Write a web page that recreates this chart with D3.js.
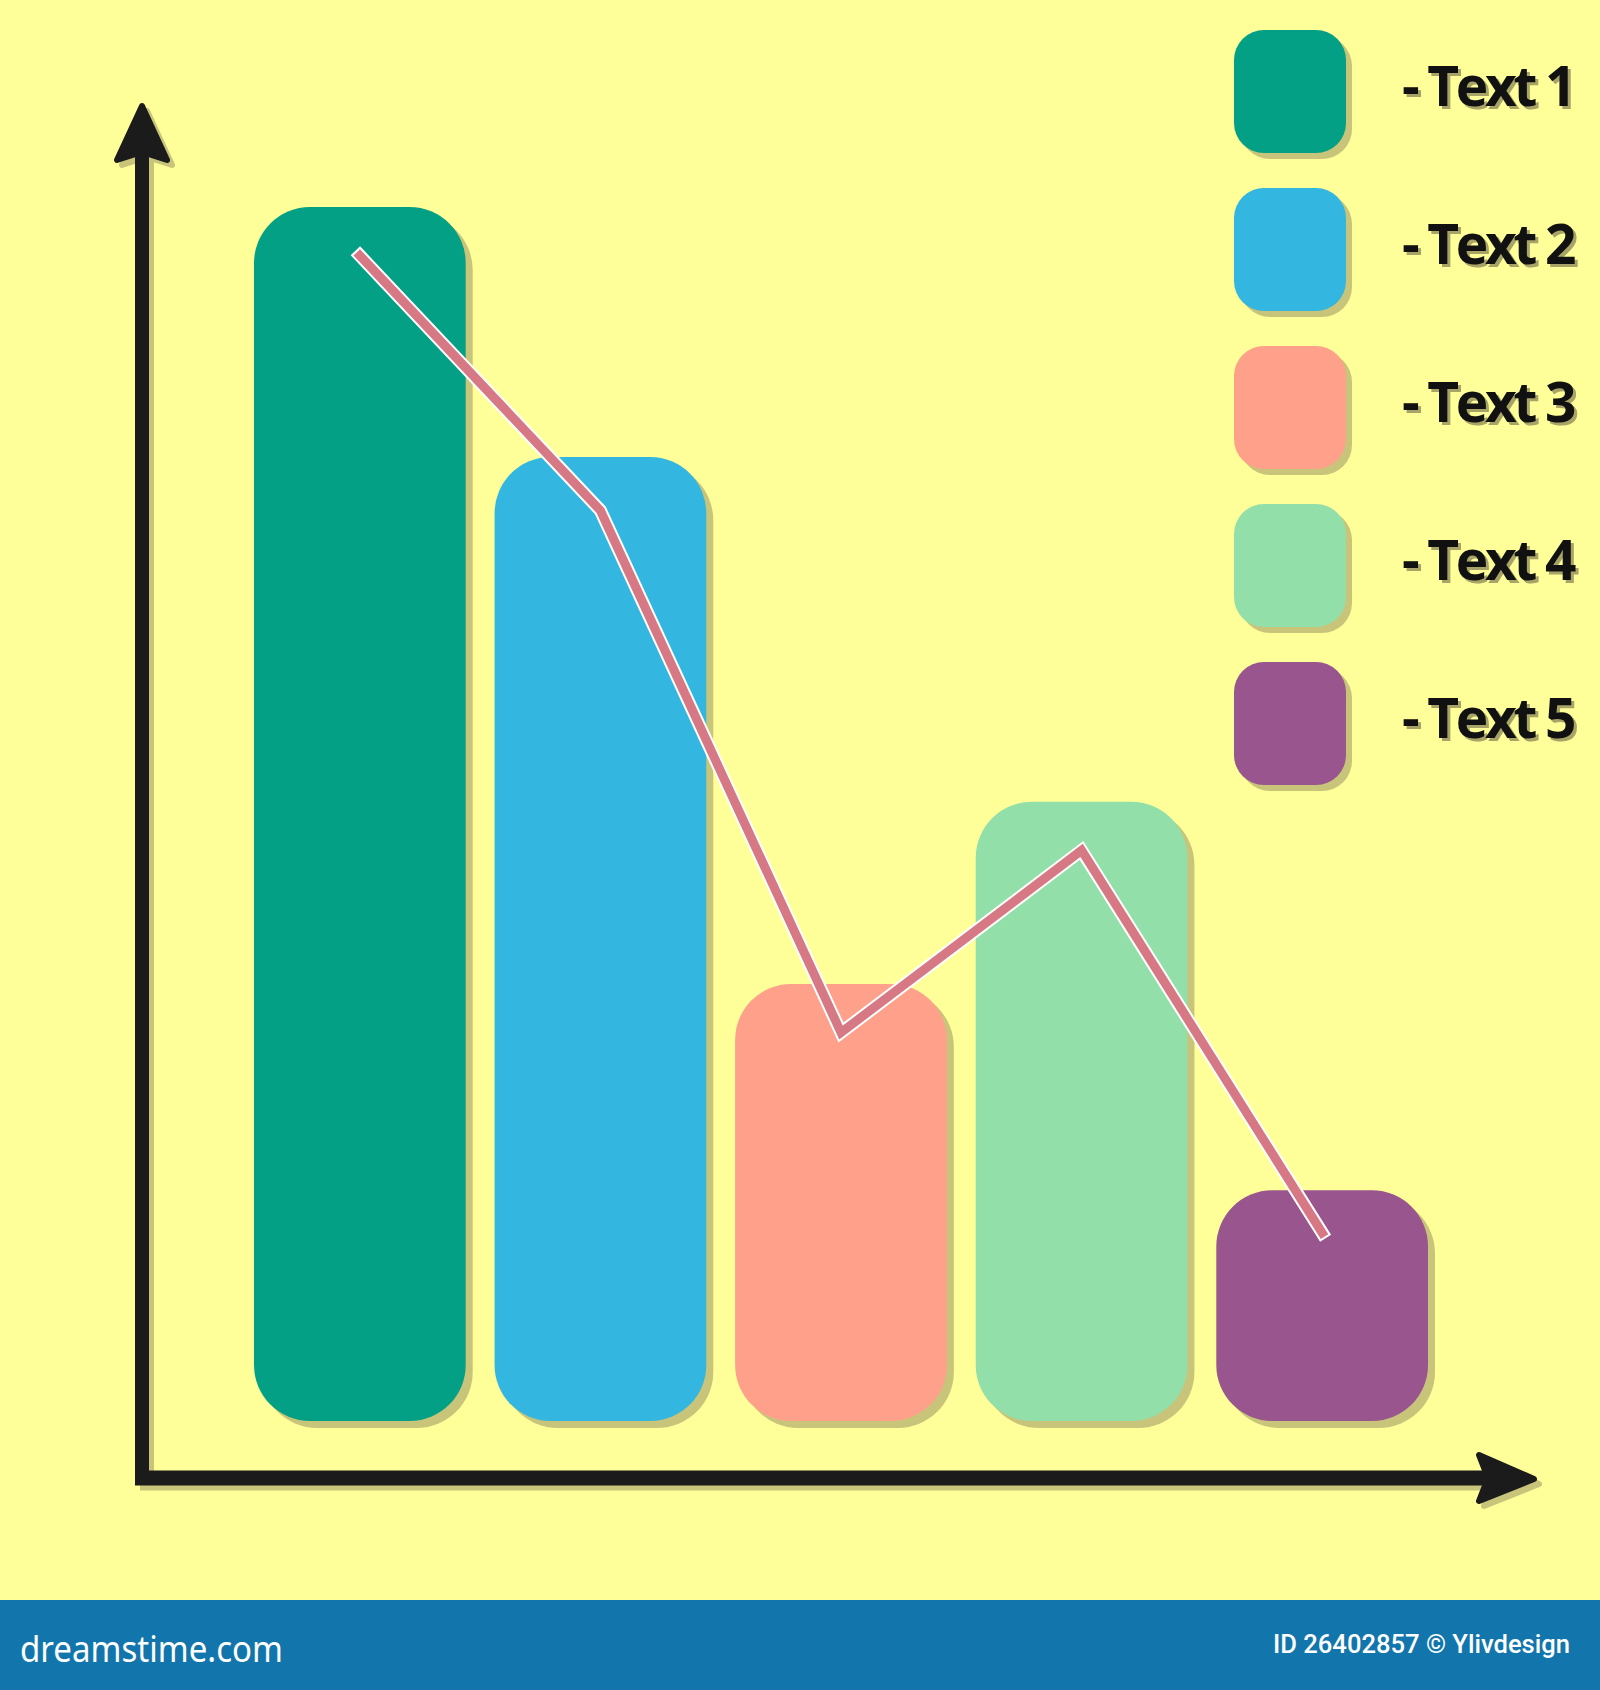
<!DOCTYPE html>
<html>
<head>
<meta charset="utf-8">
<script src="https://cdn.jsdelivr.net/npm/d3@7"></script>
<style>
  html, body { margin: 0; padding: 0; background: #ffff99; }
  svg { display: block; }
</style>
</head>
<body>
<svg id="chart" width="1600" height="1690"></svg>
<script>
// ---- data ----
const categories = ["Text 1", "Text 2", "Text 3", "Text 4", "Text 5"];
const barValues  = [100, 79.4, 36, 51, 19];
const lineValues = [96, 75, 32, 47, 15.5];
const legendLabels = ["- Text 1", "- Text 2", "- Text 3", "- Text 4", "- Text 5"];
const barColors = ["#04a085", "#33b6df", "#fea08a", "#93dfaa", "#98558e"];

const W = 1600, H = 1690;
const svg = d3.select("#chart");
const shadowColor = "#c8c57b";

svg.append("rect").attr("width", W).attr("height", H).attr("fill", "#ffff99");

const x = d3.scaleBand().domain(categories).range([254, 1428]).paddingInner(0.12).paddingOuter(0);
const y = d3.scaleLinear().domain([0, 100]).range([1421, 207]);
const color = d3.scaleOrdinal().domain(categories).range(barColors);

// ---- axes (arrows) ----
const axisX0 = 142, axisY0 = 1478;
function drawAxes(g, fill) {
  g.append("line").attr("x1", axisX0).attr("x2", axisX0)
    .attr("y1", axisY0 + 7).attr("y2", 150)
    .attr("stroke", fill).attr("stroke-width", 14);
  g.append("path")
    .attr("d", `M${axisX0},106 L${axisX0 + 25},160 L${axisX0},152 L${axisX0 - 25},160 Z`)
    .attr("fill", fill).attr("stroke", fill).attr("stroke-width", 6).attr("stroke-linejoin", "round");
  g.append("line").attr("x1", axisX0 - 7).attr("x2", 1490)
    .attr("y1", axisY0).attr("y2", axisY0)
    .attr("stroke", fill).attr("stroke-width", 15);
  g.append("path")
    .attr("d", `M1534,${axisY0 + 1} L1479,${axisY0 - 23} L1488,${axisY0} L1479,${axisY0 + 23} Z`)
    .attr("fill", fill).attr("stroke", fill).attr("stroke-width", 6).attr("stroke-linejoin", "round");
}
drawAxes(svg.append("g").attr("transform", "translate(5,5)"), shadowColor);
drawAxes(svg.append("g"), "#1b1b1b");

// ---- bars ----
const barG = svg.append("g");
barG.selectAll("rect.shadow").data(categories).join("rect")
  .attr("class", "shadow")
  .attr("x", d => x(d) + 7)
  .attr("y", (d, i) => y(barValues[i]) + 7)
  .attr("width", x.bandwidth())
  .attr("height", (d, i) => y(0) - y(barValues[i]))
  .attr("rx", 56).attr("ry", 56)
  .attr("fill", shadowColor);
barG.selectAll("rect.bar").data(categories).join("rect")
  .attr("class", "bar")
  .attr("x", d => x(d))
  .attr("y", (d, i) => y(barValues[i]))
  .attr("width", x.bandwidth())
  .attr("height", (d, i) => y(0) - y(barValues[i]))
  .attr("rx", 56).attr("ry", 56)
  .attr("fill", d => color(d));

// ---- line ----
const line = d3.line()
  .x((d, i) => x(categories[i]) + x.bandwidth() / 2)
  .y(d => y(d));
svg.append("path").datum(lineValues)
  .attr("d", line).attr("fill", "none")
  .attr("stroke", "#ffffff").attr("stroke-width", 13)
  .attr("stroke-linejoin", "miter").attr("stroke-linecap", "square");
svg.append("path").datum(lineValues)
  .attr("d", line).attr("fill", "none")
  .attr("stroke", "#d77885").attr("stroke-width", 9)
  .attr("stroke-linejoin", "miter").attr("stroke-linecap", "square");

// ---- legend ----
const legY = d3.scalePoint().domain(categories).range([30, 662]);
const leg = svg.append("g");
leg.selectAll("rect.ls").data(categories).join("rect")
  .attr("class", "ls")
  .attr("x", 1234 + 6).attr("y", d => legY(d) + 6)
  .attr("width", 112).attr("height", 123)
  .attr("rx", 30).attr("fill", shadowColor);
leg.selectAll("rect.lb").data(categories).join("rect")
  .attr("class", "lb")
  .attr("x", 1234).attr("y", d => legY(d))
  .attr("width", 112).attr("height", 123)
  .attr("rx", 30).attr("fill", d => color(d));

const targetW = 171;
function fitText(sel) {
  sel.each(function () {
    const n = this.textContent.length;
    const w = this.getComputedTextLength();
    const ls = (targetW - w) / n;
    d3.select(this).attr("letter-spacing", ls.toFixed(2));
  });
}
leg.selectAll("text.lts").data(categories).join("text")
  .attr("class", "lts")
  .attr("x", 1402 + 3).attr("y", d => legY(d) + 76 + 3)
  .attr("font-family", "'Open Sans', sans-serif").attr("font-weight", 700)
  .attr("font-size", 55)
  .attr("fill", "#a8a468")
  .text((d, i) => legendLabels[i])
  .call(fitText);
leg.selectAll("text.lt").data(categories).join("text")
  .attr("class", "lt")
  .attr("x", 1402).attr("y", d => legY(d) + 76)
  .attr("font-family", "'Open Sans', sans-serif").attr("font-weight", 700)
  .attr("font-size", 55)
  .attr("fill", "#111111")
  .text((d, i) => legendLabels[i])
  .call(fitText);

// ---- footer ----
svg.append("rect").attr("x", 0).attr("y", 1600).attr("width", W).attr("height", 90).attr("fill", "#1276ad");
svg.append("text").attr("x", 20).attr("y", 1662)
  .attr("font-family", "'Noto Sans', sans-serif").attr("font-size", 37)
  .attr("fill", "#ffffff").attr("textLength", 263).attr("lengthAdjust", "spacingAndGlyphs")
  .text("dreamstime.com");
svg.append("text").attr("x", 1273).attr("y", 1653)
  .attr("font-family", "Roboto, sans-serif").attr("font-size", 25).attr("font-weight", 500)
  .attr("fill", "#ffffff").attr("textLength", 297).attr("lengthAdjust", "spacingAndGlyphs")
  .text("ID 26402857 © Ylivdesign");
</script>
</body>
</html>
